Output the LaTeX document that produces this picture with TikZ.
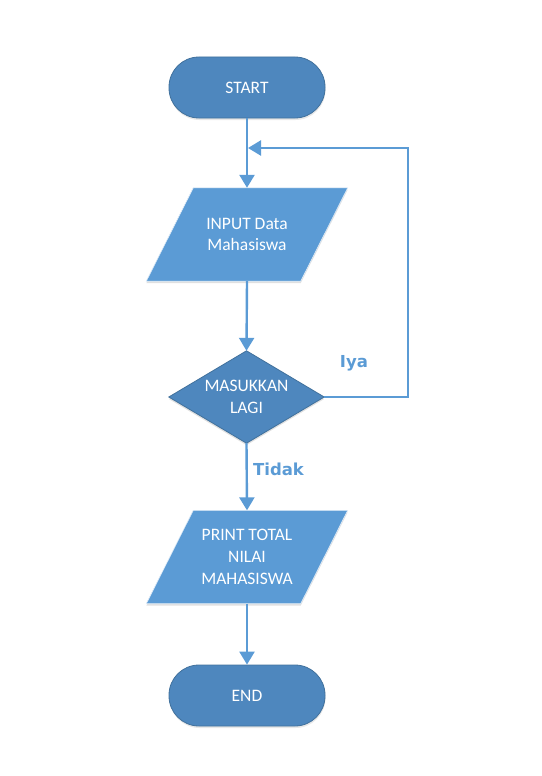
\documentclass[tikz,border=0pt]{standalone}
\usepackage{fontspec}
\setmainfont{Carlito}
\newfontfamily\lblfont{DejaVu Sans}
\usetikzlibrary{arrows.meta,shadows}
\definecolor{termfill}{HTML}{4E87BE}
\definecolor{termdraw}{HTML}{41719C}
\definecolor{parafill}{HTML}{5B9BD5}
\definecolor{linecol}{HTML}{5B9BD5}
\pgfdeclarelayer{bg}
\pgfsetlayers{bg,main}
\begin{document}
\begin{tikzpicture}[x=1pt,y=-1pt,
  txt/.style={font=\fontsize{17.5}{21.7}\selectfont, text=white, align=center, inner sep=0pt},
  term/.style={txt, rectangle, rounded corners=30pt, minimum width=156pt, minimum height=61pt,
     fill=termfill, draw=termdraw, line width=0.8pt,
     drop shadow={opacity=0.18, shadow xshift=0.5pt, shadow yshift=-2pt}},
  parabox/.style={txt, rectangle, minimum width=154pt, minimum height=93pt},
  decbox/.style={txt, rectangle, minimum width=155pt, minimum height=92pt},
  paraShape/.style={fill=parafill, draw=white!80!parafill, line width=0.6pt},
  decShape/.style={fill=termfill, draw=termdraw, line width=0.8pt},
  shadowShape/.style={fill=black, opacity=0.12},
  conn/.style={draw=linecol, line width=2.4pt, -{Triangle[length=13pt,width=15pt]}},
  lbl/.style={font=\lblfont\bfseries\fontsize{16.5}{19}\selectfont, text=linecol, inner sep=0pt}
]
\useasboundingbox (0,0) rectangle (541,776);

\node[term] (start) at (247,87.5) {START};
\node[parabox] (in) at (247,234.5) {INPUT Data\\Mahasiswa};
\node[decbox] (dec) at (246.5,397) {MASUKKAN\\LAGI};
\node[parabox] (out) at (247,557) {PRINT TOTAL\\NILAI\\MAHASISWA};
\node[term] (end) at (247,695.5) {END};

\begin{pgfonlayer}{bg}
  \foreach \n in {in,out}{
    \fill[shadowShape] ([xshift=23.5pt,yshift=-2pt]\n.north west) -- ([xshift=23.5pt,yshift=-2pt]\n.north east)
      -- ([xshift=-23.5pt,yshift=-2pt]\n.south east) -- ([xshift=-23.5pt,yshift=-2pt]\n.south west) -- cycle;
    \path[paraShape] ([xshift=23.5pt]\n.north west) -- ([xshift=23.5pt]\n.north east)
      -- ([xshift=-23.5pt]\n.south east) -- ([xshift=-23.5pt]\n.south west) -- cycle;
  }
  \fill[shadowShape] ([yshift=-2pt]dec.north) -- ([yshift=-2pt]dec.east) -- ([yshift=-2pt]dec.south) -- ([yshift=-2pt]dec.west) -- cycle;
  \path[decShape] (dec.north) -- (dec.east) -- (dec.south) -- (dec.west) -- cycle;
\end{pgfonlayer}

\coordinate (rc) at (408,148);
\coordinate (loopin) at (248,148);

\draw[conn] (start.south) -- (in.north);
\draw[conn] (in.south) -- (dec.north);
\draw[conn] (dec.south) -- (out.north);
\draw[conn] (out.south) -- (end.north);
\draw[conn] (dec.east) -| (rc) -- (loopin);

\node[lbl] (iya) at (354,363) {Iya};
\node[lbl] (tidak) at (278.5,469.5) {Tidak};
\end{tikzpicture}
\end{document}
